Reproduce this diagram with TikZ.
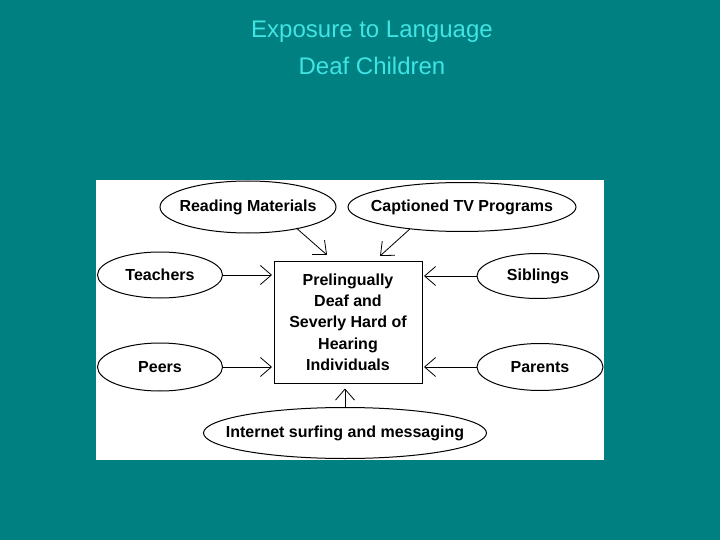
\documentclass[tikz,border=0pt]{standalone}
\usepackage{fontspec}
\setmainfont{Liberation Sans}
\usetikzlibrary{shapes.geometric,arrows.meta}
\definecolor{slide}{RGB}{0,128,128}
\definecolor{headline}{RGB}{64,228,228}
\tikzset{
	src/.style 2 args={ellipse,draw,line width=1pt,inner sep=0pt,minimum width=#1,minimum height=#2},
	into/.style={-{Straight Barb[length=11pt,width=19pt]},line width=0.8pt},
	every label/.style={font=\fontsize{16}{19}\selectfont\bfseries},
	title/.style={text=headline,font=\fontsize{24}{28}\selectfont,anchor=base}
}
\begin{document}
\begin{tikzpicture}[x=1pt,y=-1pt]
	\fill[slide] (0,0) rectangle (720,540);
	\fill[white] (96,180) rectangle (604,460);

	\node[title] (head) at (372,38) {Exposure to Language};
	\node[title] (sub) at (372,75) {Deaf Children};

	\node [draw,line width=1pt,minimum width=148pt,minimum height=122pt,align=center,
		font=\fontsize{16}{21.3}\selectfont\bfseries] (deaf) at (348,322)
		{Prelingually\\Deaf and\\Severly Hard of\\Hearing\\Individuals};

	\node [src={176pt}{52pt},label=center:{Reading Materials}] (read) at (248,207) {};
	\node [src={228pt}{49pt},label=center:{Captioned TV Programs}] (tv) at (462,207) {};
	\node [src={125pt}{46pt},label=center:{Teachers}] (teach) at (160,275) {};
	\node [src={122pt}{45pt},label=center:{Siblings}] (sib) at (538,276) {};
	\node [src={125pt}{48pt},label=center:{Peers}] (peer) at (160,367) {};
	\node [src={126pt}{47pt},label=center:{Parents}] (par) at (540,367) {};
	\node [src={283pt}{51pt},label=center:{Internet surfing and messaging}] (net) at (345,433) {};

	\coordinate (readtip) at (327,255);
	\coordinate (tvtip) at (380,256);

	\draw[into] (read.-24) -- (readtip);
	\draw[into] (tv.203) -- (tvtip);
	\draw[into,shorten >=1.5pt] (teach.east) -- (teach.east -| deaf.west);
	\draw[into,shorten >=1.5pt] (peer.east) -- (peer.east -| deaf.west);
	\draw[into,shorten >=1.5pt] (sib.west) -- (sib.west -| deaf.east);
	\draw[into,shorten >=1.5pt] (par.west) -- (par.west -| deaf.east);
	\draw[into,shorten >=5pt] (net.north) -- (net.north |- deaf.south);
\end{tikzpicture}
\end{document}
